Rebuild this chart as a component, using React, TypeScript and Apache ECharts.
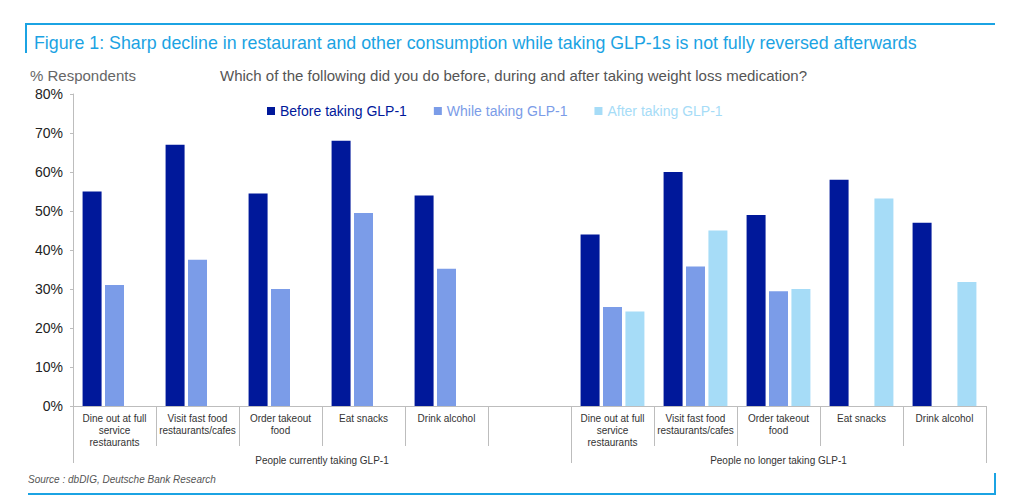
import React, { useEffect, useRef } from "react";
import * as echarts from "echarts";

const categories = [
  "Dine out at full\nservice\nrestaurants",
  "Visit fast food\nrestaurants/cafes",
  "Order takeout\nfood",
  "Eat snacks",
  "Drink alcohol",
  "",
  "Dine out at full\nservice\nrestaurants",
  "Visit fast food\nrestaurants/cafes",
  "Order takeout\nfood",
  "Eat snacks",
  "Drink alcohol",
];
const groupLabels = ["People currently taking GLP-1", "People no longer taking GLP-1"];
const groupBounds = [0, 6, 11];
const groupCenters = [3, 8.5];

const seriesNames = ["Before taking GLP-1", "While taking GLP-1", "After taking GLP-1"];
const before = [55, 67, 54.5, 68, 54, null, 44, 60, 49, 58, 47];
const whileTaking = [31, 37.5, 30, 49.5, 35.2, null, 25.4, 35.8, 29.4, null, null];
const after = [null, null, null, null, null, null, 24.2, 45, 30, 53.2, 31.8];
const colors = ["#00189A", "#7B9CE8", "#A6DCF7"];
const yTicks = { min: 0, max: 80, interval: 10 };

const FONT = "'Liberation Sans', Arial, Helvetica, sans-serif";
const FRAME = "#1BA3E3";
const AXIS = "#BDBDBD";

export default function App() {
  const ref = useRef<HTMLDivElement>(null);
  useEffect(() => {
    document.body.style.margin = "0";
    if (!ref.current) return;
    const chart = echarts.init(ref.current, undefined, { renderer: "svg" });
    const data = [before, whileTaking, after];
    chart.setOption({
      animation: false,
      backgroundColor: "#ffffff",
      textStyle: { fontFamily: FONT },
      title: [
        {
          text: "Figure 1: Sharp decline in restaurant and other consumption while taking GLP-1s is not fully reversed afterwards",
          left: 34,
          top: 33,
          padding: 0,
          textStyle: { fontSize: 17.8, lineHeight: 20, color: FRAME, fontWeight: "normal", fontFamily: FONT },
        },
        {
          text: "% Respondents",
          left: 30,
          top: 67,
          padding: 0,
          textStyle: { fontSize: 15, lineHeight: 17, color: "#666666", fontWeight: "normal", fontFamily: FONT },
        },
        {
          text: "Which of the following did you do before, during and after taking weight loss medication?",
          left: 220,
          top: 67,
          padding: 0,
          textStyle: { fontSize: 15, lineHeight: 17, color: "#555555", fontWeight: "normal", fontFamily: FONT },
        },
        {
          text: "Source : dbDIG, Deutsche Bank Research",
          left: 28,
          top: 473,
          padding: 0,
          textStyle: { fontSize: 10, lineHeight: 12, color: "#555555", fontStyle: "italic", fontWeight: "normal", fontFamily: FONT },
        },
      ],
      legend: {
        left: 267,
        top: 104,
        padding: 0,
        itemWidth: 8,
        itemHeight: 8,
        itemGap: 27,
        icon: "rect",
        textStyle: { fontSize: 14, fontFamily: FONT },
        data: seriesNames.map((n, i) => ({ name: n, textStyle: { color: colors[i] } })),
      },
      grid: { left: 73, right: 38, top: 94, bottom: 97, containLabel: false },
      xAxis: [
        {
          type: "category",
          data: categories,
          boundaryGap: true,
          axisLine: { show: true, lineStyle: { color: AXIS, width: 1 } },
          axisTick: { show: true, interval: 0, length: 40, lineStyle: { color: AXIS } },
          axisLabel: {
            interval: 0,
            fontSize: 10,
            lineHeight: 12,
            color: "#333333",
            margin: 6,
            fontFamily: FONT,
          },
          splitLine: { show: false },
        },
        {
          type: "value",
          position: "bottom",
          min: groupBounds[0],
          max: groupBounds[groupBounds.length - 1],
          axisLine: { show: false },
          axisTick: { show: true, length: 57, customValues: groupBounds, lineStyle: { color: AXIS } },
          axisLabel: {
            customValues: groupCenters,
            formatter: (v: number) => (v < 6 ? groupLabels[0] : groupLabels[1]),
            fontSize: 10,
            lineHeight: 12,
            color: "#333333",
            margin: 48,
            fontFamily: FONT,
          },
          splitLine: { show: false },
        },
      ],
      yAxis: {
        type: "value",
        min: yTicks.min,
        max: yTicks.max,
        interval: yTicks.interval,
        axisLine: { show: true, lineStyle: { color: AXIS } },
        axisTick: { show: true, length: 3, lineStyle: { color: AXIS } },
        axisLabel: { formatter: "{value}%", fontSize: 14, color: "#222222", margin: 10, fontFamily: FONT },
        splitLine: { show: false },
      },
      series: seriesNames.map((name, i) => ({
        name,
        type: "bar",
        xAxisIndex: 0,
        barWidth: 19,
        barGap: "18%",
        itemStyle: { color: colors[i] },
        data: data[i],
      })),
      graphic: [
        {
          type: "polyline",
          shape: { points: [[26, 53], [26, 24], [995, 24]] },
          style: { stroke: FRAME, lineWidth: 2, fill: "none" },
          silent: true,
        },
        {
          type: "polyline",
          shape: { points: [[28, 494], [995, 494], [995, 473]] },
          style: { stroke: FRAME, lineWidth: 2, fill: "none" },
          silent: true,
        },
      ],
    });
    return () => chart.dispose();
  }, []);
  return <div ref={ref} style={{ width: 1024, height: 503 }} />;
}
